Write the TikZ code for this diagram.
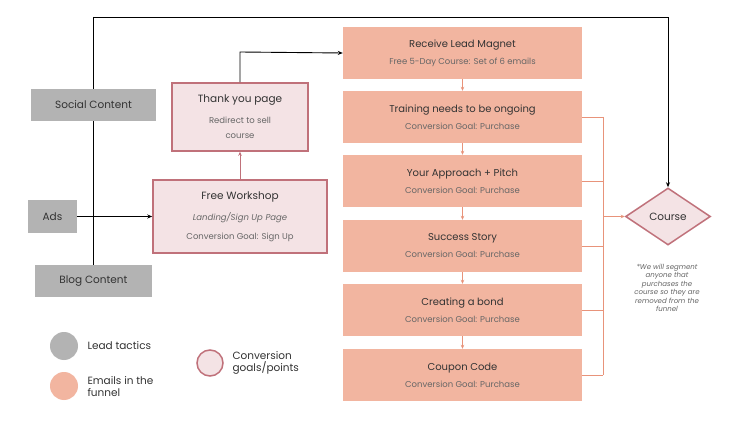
\documentclass[tikz,border=0pt]{standalone}
\usepackage{fontspec}
\setmainfont{Poppins}
\usetikzlibrary{shapes.geometric,arrows.meta}
\definecolor{lead}{HTML}{B3B3B3}
\definecolor{email}{HTML}{F2B5A0}
\definecolor{conv}{HTML}{F4E3E5}
\definecolor{convb}{HTML}{C0717A}
\definecolor{link}{HTML}{E8937A}
\definecolor{txt}{HTML}{333333}
\definecolor{sub}{HTML}{666666}
\tikzset{
 leadbox/.style={fill=lead,draw=none,text=txt,font=\fontsize{10.5}{12}\selectfont,inner sep=0pt},
 emailbox/.style={fill=email,draw=none,text=txt,minimum width=239pt,minimum height=52pt,align=center,font=\fontsize{10}{17}\selectfont,inner sep=0pt},
 convbox/.style={fill=conv,draw=convb,line width=1.5pt,text=txt,align=center,inner sep=0pt},
 blk/.style={draw=black,line width=0.9pt,-{Stealth[length=5pt,width=4pt]}},
 pk/.style={draw=link,line width=0.8pt},
 pka/.style={pk,-{Stealth[length=4pt,width=3.5pt]}},
 subt/.style={text=sub,font=\fontsize{8}{10}\selectfont}
}
\begin{document}
\begin{tikzpicture}[x=1pt,y=-1pt]
\useasboundingbox (0,0) rectangle (750,422);
\fill[white] (0,0) rectangle (750,422);
% vertical black line first (behind gray boxes)
\coordinate (topL) at (93,17);
\draw[line width=0.9pt] (93,17) -- (93,265);
% lead boxes
\node[leadbox,minimum width=125pt,minimum height=32pt] (social) at (93.5,105) {Social Content};
\node[leadbox,minimum width=49pt,minimum height=33pt] (ads) at (52.5,216.5) {Ads};
\node[leadbox,minimum width=117pt,minimum height=32pt] (blog) at (93.5,281) {Blog Content};
% conversion boxes
\node[convbox,minimum width=174pt,minimum height=73pt] (fw) at (240,216.5) {};
\node[text=txt,font=\fontsize{10.5}{12}\selectfont] at (240,197) {Free Workshop};
\node[subt,font=\fontsize{8.5}{10}\itshape] at (240,218) {Landing/Sign Up Page};
\node[subt,font=\fontsize{8.5}{10}\selectfont] at (240,237.5) {Conversion Goal: Sign Up};
\node[convbox,minimum width=136pt,minimum height=68pt] (ty) at (240,117) {};
\node[text=txt,font=\fontsize{10.5}{12}\selectfont] at (240,100) {Thank you page};
\node[subt,align=center,font=\fontsize{8.5}{15}\selectfont] at (240,128) {Redirect to sell\\course};
% emails
\node[emailbox] (e1) at (462.5,53) {Receive Lead Magnet\\{\color{sub}\fontsize{8.5}{10}\selectfont Free 5-Day Course: Set of 6 emails}};
\node[emailbox] (e2) at (462.5,117) {Training needs to be ongoing\\{\color{sub}\fontsize{8.5}{10}\selectfont Conversion Goal: Purchase}};
\node[emailbox] (e3) at (462.5,181) {Your Approach + Pitch\\{\color{sub}\fontsize{8.5}{10}\selectfont Conversion Goal: Purchase}};
\node[emailbox] (e4) at (462.5,246) {Success Story\\{\color{sub}\fontsize{8.5}{10}\selectfont Conversion Goal: Purchase}};
\node[emailbox] (e5) at (462.5,310) {Creating a bond\\{\color{sub}\fontsize{8.5}{10}\selectfont Conversion Goal: Purchase}};
\node[emailbox] (e6) at (462.5,375) {Coupon Code\\{\color{sub}\fontsize{8.5}{10}\selectfont Conversion Goal: Purchase}};
% course diamond
\node[diamond,fill=conv,draw=convb,line width=1.5pt,minimum width=85pt,minimum height=57pt,inner sep=0pt,text=txt,font=\fontsize{10.5}{12}\selectfont] (course) at (668,216.5) {Course};
\node[text=sub,align=center,font=\fontsize{7}{8.5}\itshape] (note) at (667,288) {*We will segment\\anyone that\\purchases the\\course so they are\\removed from the\\funnel};
% black connectors
\draw[blk] (topL) -- (668,17) -- (course.north);
\draw[blk] (ads.east) -- (fw.west);
\draw[blk] (ty.north) -- (240,52) -- (e1.west);
\draw[pka,draw=convb] (fw.north) -- (ty.south);
% email chain
\foreach \a/\b in {e1/e2,e2/e3,e3/e4,e4/e5,e5/e6}{\draw[pka] (\a.south) -- (\b.north);}
\coordinate (bus) at (603,216.5);
\foreach \e in {e2,e3,e4,e5,e6}{\draw[pk] (\e.east) -- (\e.east -| bus);}
\draw[pk] (e2.east -| bus) -- (e6.east -| bus);
\draw[pka] (bus) -- (course.west);
% legend
\fill[lead] (64,346) circle (14pt);
\fill[email] (64,386) circle (14pt);
\draw[fill=conv,draw=convb,line width=1.5pt] (210,363) circle (13pt);
\node[anchor=west,text=txt,font=\fontsize{10.5}{12}\selectfont] (l1) at (84,346) {Lead tactics};
\node[anchor=west,text=txt,align=left,font=\fontsize{10.5}{12}\selectfont] (l2) at (84,387) {Emails in the\\funnel};
\node[anchor=west,text=txt,align=left,font=\fontsize{10.5}{12}\selectfont] (l3) at (229,363) {Conversion\\goals/points};
\end{tikzpicture}
\end{document}
